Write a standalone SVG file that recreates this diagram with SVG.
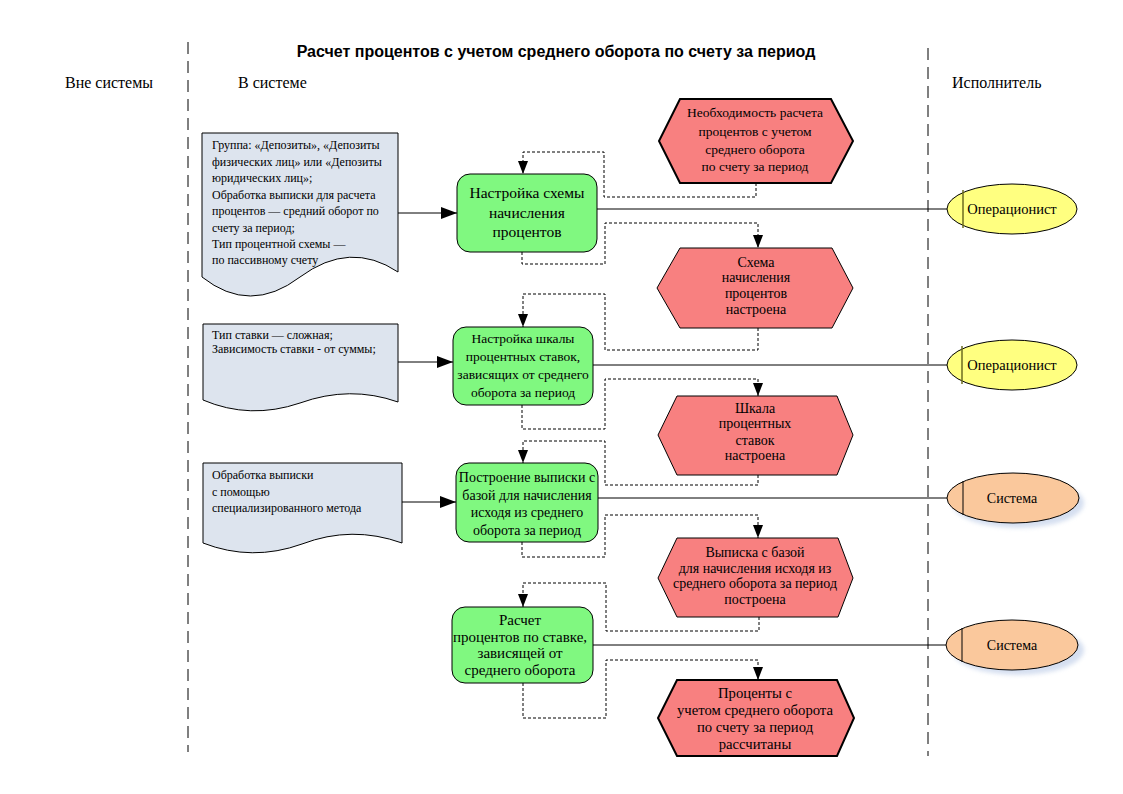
<svg xmlns="http://www.w3.org/2000/svg" width="1123" height="794" viewBox="0 0 1123 794">
<style>
.lane{stroke:#000;stroke-width:1;stroke-dasharray:12,7;fill:none}
.hdr{font-family:"Liberation Serif","Times New Roman",serif;font-size:16px;fill:#000}
.title{font-family:"Liberation Sans",Arial,sans-serif;font-size:16px;font-weight:bold;fill:#000}
.doc{fill:#dde4ee;stroke:#000;stroke-width:1}
.doct{font-family:"Liberation Serif","Times New Roman",serif;font-size:12px;fill:#000}
.fn{fill:#80f880;stroke:#000;stroke-width:1}
.ev{fill:#f88080;stroke:#000;stroke-width:1}
.evb{fill:#f88080;stroke:#000;stroke-width:2}
.t{font-family:"Liberation Serif","Times New Roman",serif;font-size:13.5px;fill:#000;text-anchor:middle}
.te{font-family:"Liberation Serif","Times New Roman",serif;font-size:14px;fill:#000;text-anchor:middle}
.flow{stroke:#000;stroke-width:1;fill:none}
.dot{stroke:#000;stroke-width:1;fill:none;stroke-dasharray:3,2}
.op{fill:#ffff80;stroke:#000;stroke-width:1}
.sys{fill:#fac89c;stroke:#000;stroke-width:1}
.shadow{fill:#c4d2ea;opacity:0.7}
.et{font-family:"Liberation Serif","Times New Roman",serif;font-size:14.5px;fill:#000;text-anchor:middle}
</style>
<defs>
<marker id="big" markerWidth="16" markerHeight="12" refX="16" refY="6" orient="auto" markerUnits="userSpaceOnUse"><path d="M0,0 L16,6 L0,12 Z" fill="#000"/></marker>
<marker id="small" markerWidth="13" markerHeight="10" refX="13" refY="5" orient="auto" markerUnits="userSpaceOnUse"><path d="M0,0 L13,5 L0,10 Z" fill="#000"/></marker>
<filter id="blur" x="-20%" y="-20%" width="140%" height="140%"><feGaussianBlur stdDeviation="2"/></filter>
</defs>
<rect width="1123" height="794" fill="#fff"/>

<g id="lanes">
<line class="lane" x1="188" y1="42" x2="188" y2="752"/>
<line class="lane" x1="928" y1="48" x2="928" y2="756"/>
<text class="title" x="556" y="57" text-anchor="middle">Расчет процентов с учетом среднего оборота по счету за период</text>
<text class="hdr" x="65" y="88">Вне системы</text>
<text class="hdr" x="238" y="88">В системе</text>
<text class="hdr" x="952" y="88">Исполнитель</text>
</g>

<g id="connectors">
<line class="flow" x1="398" y1="213" x2="457" y2="213" marker-end="url(#big)"/>
<line class="flow" x1="398" y1="362" x2="453" y2="362" marker-end="url(#big)"/>
<line class="flow" x1="402" y1="502" x2="456" y2="502" marker-end="url(#big)"/>
<line class="flow" x1="597" y1="209" x2="947" y2="209"/>
<line class="flow" x1="593" y1="365" x2="947" y2="365"/>
<line class="flow" x1="598" y1="498" x2="947" y2="498"/>
<line class="flow" x1="593" y1="645" x2="947" y2="645"/>
<path class="dot" d="M756,183 V197 H604 V152 H523 V174" marker-end="url(#small)"/>
<path class="dot" d="M522,252 V264 H605 V223 H758 V248" marker-end="url(#small)"/>
<path class="dot" d="M758,328 V350 H605 V294 H523 V327" marker-end="url(#small)"/>
<path class="dot" d="M522,405 V429 H605 V379 H758 V396" marker-end="url(#small)"/>
<path class="dot" d="M758,475 V485 H605 V441 H523 V463" marker-end="url(#small)"/>
<path class="dot" d="M522,542 V557 H605 V515 H758 V538" marker-end="url(#small)"/>
<path class="dot" d="M759,617 V631 H606 V583 H523 V607" marker-end="url(#small)"/>
<path class="dot" d="M523,683 V718 H606 V660 H758 V680" marker-end="url(#small)"/>
</g>

<g id="doc1">
<path class="doc" d="M202,133 H398 V272 Q350,240 300,277 Q250,315 202,277 Z"/>
<text class="doct" x="212" y="149">Группа: «Депозиты», «Депозиты</text>
<text class="doct" x="212" y="166">физических лиц» или «Депозиты</text>
<text class="doct" x="212" y="182">юридических лиц»;</text>
<text class="doct" x="212" y="199">Обработка выписки для расчета</text>
<text class="doct" x="212" y="215">процентов — средний оборот по</text>
<text class="doct" x="212" y="232">счету за период;</text>
<text class="doct" x="212" y="248">Тип процентной схемы —</text>
<text class="doct" x="212" y="264">по пассивному счету</text>
</g>

<g id="doc2">
<path class="doc" d="M203,324 H398 V402 Q350,385 300,403 Q250,420 203,400 Z"/>
<text class="doct" x="212" y="339">Тип ставки — сложная;</text>
<text class="doct" x="212" y="353">Зависимость ставки - от суммы;</text>
</g>

<g id="doc3">
<path class="doc" d="M203,463 H402 V543 Q352,525 302,544 Q252,562 203,543 Z"/>
<text class="doct" x="212" y="479">Обработка выписки</text>
<text class="doct" x="212" y="496">с помощью</text>
<text class="doct" x="212" y="512">специализированного метода</text>
</g>

<g id="fn1">
<rect class="fn" x="457" y="174" width="140" height="78" rx="13"/>
<text class="t" x="527" y="198" style="font-size:15.5px">Настройка схемы</text>
<text class="t" x="527" y="218" style="font-size:15.5px">начисления</text>
<text class="t" x="527" y="237" style="font-size:15.5px">процентов</text>
</g>

<g id="fn2">
<rect class="fn" x="453" y="327" width="140" height="78" rx="13"/>
<text class="t" x="523" y="343">Настройка шкалы</text>
<text class="t" x="523" y="361">процентных  ставок,</text>
<text class="t" x="523" y="379">зависящих от среднего</text>
<text class="t" x="523" y="397">оборота за период</text>
</g>

<g id="fn3">
<rect class="fn" x="456" y="463" width="142" height="79" rx="13"/>
<text class="t" x="527" y="482" style="font-size:14px">Построение выписки с</text>
<text class="t" x="527" y="500" style="font-size:14px">базой для начисления</text>
<text class="t" x="527" y="517" style="font-size:14px">исходя из среднего</text>
<text class="t" x="527" y="535" style="font-size:14px">оборота за период</text>
</g>

<g id="fn4">
<rect class="fn" x="452" y="607" width="141" height="76" rx="13"/>
<text class="t" x="520" y="625" style="font-size:15px">Расчет</text>
<text class="t" x="520" y="642" style="font-size:15px">процентов по ставке,</text>
<text class="t" x="520" y="658" style="font-size:15px">зависящей от</text>
<text class="t" x="520" y="675" style="font-size:15px">среднего оборота</text>
</g>

<g id="ev1">
<polygon class="evb" points="680,99 831,99 853,141 831,183 680,183 659,141"/>
<text class="te" x="755" y="117" style="font-size:13.5px">Необходимость расчета</text>
<text class="te" x="755" y="136" style="font-size:13.5px">процентов с учетом</text>
<text class="te" x="755" y="154" style="font-size:13.5px">среднего оборота</text>
<text class="te" x="755" y="171" style="font-size:13.5px">по счету за период</text>
</g>

<g id="ev2">
<polygon class="ev" points="680,248 832,248 853,288 832,328 680,328 657,288"/>
<text class="te" x="756" y="267">Схема</text>
<text class="te" x="756" y="282">начисления</text>
<text class="te" x="756" y="298">процентов</text>
<text class="te" x="756" y="314">настроена</text>
</g>

<g id="ev3">
<polygon class="ev" points="677,396 837,396 853,435 837,475 677,475 658,435"/>
<text class="te" x="755" y="413">Шкала</text>
<text class="te" x="755" y="428">процентных</text>
<text class="te" x="755" y="445">ставок</text>
<text class="te" x="755" y="460">настроена</text>
</g>

<g id="ev4">
<polygon class="ev" points="677,538 838,538 853,578 838,617 677,617 658,578"/>
<text class="te" x="755" y="557">Выписка с базой</text>
<text class="te" x="755" y="573">для начисления исходя из</text>
<text class="te" x="755" y="588">среднего оборота за период</text>
<text class="te" x="755" y="604">построена</text>
</g>

<g id="ev5">
<polygon class="evb" points="677,680 837,680 854,718 837,756 677,756 658,718"/>
<text class="te" x="755" y="698" style="font-size:14.7px">Проценты с</text>
<text class="te" x="755" y="715" style="font-size:14.7px">учетом среднего оборота</text>
<text class="te" x="755" y="732" style="font-size:14.7px">по счету за период</text>
<text class="te" x="755" y="749" style="font-size:14.7px">рассчитаны</text>
</g>

<g id="role1">
<ellipse class="op" cx="1012" cy="209" rx="65" ry="25"/>
<line x1="963" y1="190" x2="963" y2="228" stroke="#6b6b20" stroke-width="1.5"/>
<text class="et" x="1012" y="214">Операционист</text>
</g>

<g id="role2">
<ellipse class="op" cx="1012" cy="365" rx="65" ry="25"/>
<line x1="962" y1="346" x2="962" y2="384" stroke="#6b6b20" stroke-width="1.5"/>
<text class="et" x="1012" y="370">Операционист</text>
</g>

<g id="role3">
<ellipse class="shadow" cx="1018" cy="503" rx="66" ry="25" filter="url(#blur)"/>
<ellipse class="sys" cx="1013" cy="498" rx="66" ry="25"/>
<line x1="963" y1="481" x2="963" y2="515" stroke="#000" stroke-width="1"/>
<text class="et" x="1012" y="503" style="font-size:14px">Система</text>
</g>

<g id="role4">
<ellipse class="shadow" cx="1018" cy="650" rx="66" ry="25" filter="url(#blur)"/>
<ellipse class="sys" cx="1012" cy="645" rx="66" ry="25"/>
<line x1="962" y1="628" x2="962" y2="662" stroke="#000" stroke-width="1"/>
<text class="et" x="1012" y="650" style="font-size:14px">Система</text>
</g>
</svg>
